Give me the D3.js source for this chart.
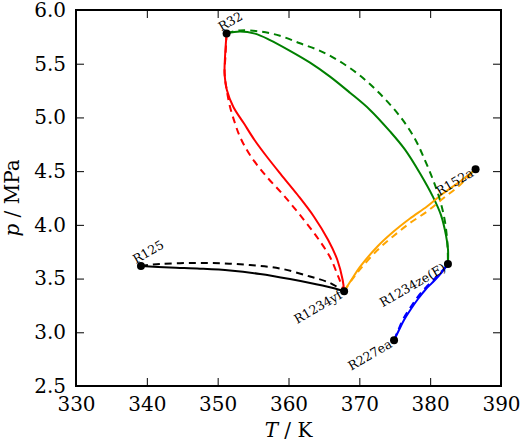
<!DOCTYPE html>
<html>
<head>
<meta charset="utf-8">
<script src="https://cdn.jsdelivr.net/npm/d3@7"></script>
<style>
  body { margin: 0; padding: 0; background: white; }
  text { font-family: "DejaVu Serif", serif; }
</style>
</head>
<body>
<div id="chart"></div>
<script>
const width = 520;
const height = 443;
const margin = { left: 76, top: 10, right: 19, bottom: 57 };

// axis ticks
const xTicks = [330, 340, 350, 360, 370, 380, 390];
const yTicks = [2.5, 3.0, 3.5, 4.0, 4.5, 5.0, 5.5, 6.0];

// pure fluid critical points
const fluidNames = ["R32", "R125", "R1234yf", "R1234ze(E)", "R227ea", "R152a"];
const fluidT = [351.26, 339.17, 367.85, 382.51, 374.9, 386.41];
const fluidP = [5.782, 3.618, 3.382, 3.635, 2.925, 4.517];

// critical lines of binary mixtures, [T / K, p / MPa], solid and dashed
const r32R1234yf = [[351.26,5.782],[351.04,5.565],[350.98,5.41],[351.3,5.255],[352.2,5.10],[353.7,4.945],[355.2,4.79],[356.95,4.634],[359.0,4.464],[361.3,4.278],[363.6,4.076],[365.6,3.859],[366.9,3.673],[367.65,3.487],[367.85,3.382]];
const r32R1234yfDash = [[351.26,5.782],[351.11,5.58],[350.98,5.41],[351.28,5.255],[351.74,5.10],[352.45,4.945],[353.15,4.82],[354.56,4.65],[356.9,4.45],[359.27,4.278],[361.62,4.092],[363.98,3.89],[365.86,3.70],[367.03,3.517],[367.85,3.382]];
const r32R1234ze = [[351.26,5.782],[353.15,5.80],[355.27,5.78],[357.39,5.72],[360.21,5.62],[363.04,5.51],[365.86,5.38],[368.68,5.23],[371.51,5.07],[374.33,4.87],[376.45,4.70],[378.56,4.48],[380.40,4.26],[381.53,4.09],[382.24,3.90],[382.52,3.77],[382.51,3.635]];
const r32R1234zeDash = [[351.26,5.782],[353.15,5.81],[355.98,5.80],[358.80,5.76],[361.62,5.69],[364.45,5.62],[367.27,5.52],[370.09,5.39],[372.92,5.22],[375.74,5.01],[377.86,4.80],[379.27,4.60],[380.40,4.42],[381.39,4.23],[382.09,4.03],[382.45,3.81],[382.51,3.635]];
const r125R1234yf = [[339.17,3.618],[343.27,3.603],[347.51,3.592],[351.74,3.575],[355.98,3.543],[360.21,3.496],[363.74,3.450],[366.57,3.408],[367.85,3.382]];
const r125R1234yfDash = [[339.17,3.618],[341.86,3.636],[346.09,3.645],[350.33,3.642],[354.56,3.626],[358.80,3.594],[363.04,3.519],[365.86,3.459],[367.85,3.382]];
const r1234yfR152a = [[367.85,3.382],[368.96,3.496],[370.09,3.608],[372.49,3.794],[374.75,3.933],[377.15,4.059],[379.55,4.171],[381.81,4.292],[384.21,4.404],[386.41,4.517]];
const r1234yfR152aDash = [[367.85,3.382],[368.96,3.49],[370.09,3.585],[372.49,3.761],[374.75,3.892],[377.15,4.017],[379.55,4.124],[381.81,4.245],[384.21,4.371],[386.41,4.517]];
const r227eaR1234ze = [[374.9,2.925],[375.60,3.021],[376.31,3.114],[377.29,3.217],[378.28,3.31],[379.41,3.403],[380.54,3.477],[381.67,3.561],[382.51,3.635]];
const r227eaR1234zeDash = [[374.9,2.925],[375.55,3.03],[376.25,3.13],[377.25,3.235],[378.25,3.33],[379.4,3.418],[380.5,3.49],[381.65,3.57],[382.51,3.635]];

const curves = [
  { data: r32R1234yf, color: "#ff0000", dash: null },
  { data: r32R1234ze, color: "#008000", dash: null },
  { data: r125R1234yf, color: "#000000", dash: null },
  { data: r1234yfR152a, color: "#ffa500", dash: null },
  { data: r227eaR1234ze, color: "#0000ff", dash: null },
  { data: r32R1234yfDash, color: "#ff0000", dash: "7,5" },
  { data: r32R1234zeDash, color: "#008000", dash: "7,5" },
  { data: r125R1234yfDash, color: "#000000", dash: "7,5" },
  { data: r1234yfR152aDash, color: "#ffa500", dash: "7,5" },
  { data: r227eaR1234zeDash, color: "#0000ff", dash: "7,5" },
];

// label placement: which end of the text sits at the point
const labelAnchor = ["start", "start", "end", "end", "end", "end"];

const innerW = width - margin.left - margin.right;
const innerH = height - margin.top - margin.bottom;

const svg = d3.select("#chart")
  .append("svg")
  .attr("width", width)
  .attr("height", height);

const g = svg.append("g")
  .attr("transform", "translate(" + margin.left + "," + margin.top + ")");

const x = d3.scaleLinear().domain([330, 390]).range([0, innerW]);
const y = d3.scaleLinear().domain([2.5, 6.0]).range([innerH, 0]);

const line = d3.line()
  .x(d => x(d[0]))
  .y(d => y(d[1]))
  .curve(d3.curveCatmullRom.alpha(0.5));

g.selectAll(".curve")
  .data(curves)
  .enter()
  .append("path")
  .attr("class", "curve")
  .attr("d", d => line(d.data))
  .attr("fill", "none")
  .attr("stroke", d => d.color)
  .attr("stroke-width", 2)
  .attr("stroke-dasharray", d => d.dash);

// markers
g.selectAll(".pt")
  .data(fluidNames)
  .enter()
  .append("circle")
  .attr("class", "pt")
  .attr("cx", (d, i) => x(fluidT[i]))
  .attr("cy", (d, i) => y(fluidP[i]))
  .attr("r", 4)
  .attr("fill", "black");

// rotated labels
g.selectAll(".lbl")
  .data(fluidNames)
  .enter()
  .append("text")
  .attr("class", "lbl")
  .attr("transform", function (d, i) {
    const px = x(fluidT[i]);
    const py = y(fluidP[i]);
    if (labelAnchor[i] === "start") {
      return "translate(" + (px - 5) + "," + (py - 2) + ") rotate(-30)";
    }
    return "translate(" + (px - 3) + "," + (py + 3) + ") rotate(-30)";
  })
  .attr("text-anchor", (d, i) => labelAnchor[i])
  .attr("dy", (d, i) => labelAnchor[i] === "start" ? "0" : "0.3em")
  .style("font-size", "12.5px")
  .text(d => d);

// axes with inward ticks on all four sides
const tickLen = 8;
const xAxisB = d3.axisBottom(x).tickValues(xTicks).tickSizeInner(-tickLen).tickSizeOuter(0).tickPadding(11).tickFormat(d3.format("d"));
const xAxisT = d3.axisTop(x).tickValues(xTicks).tickSizeInner(-tickLen).tickSizeOuter(0).tickFormat("");
const yAxisL = d3.axisLeft(y).tickValues(yTicks).tickSizeInner(-tickLen).tickSizeOuter(0).tickPadding(10).tickFormat(d3.format(".1f"));
const yAxisR = d3.axisRight(y).tickValues(yTicks).tickSizeInner(-tickLen).tickSizeOuter(0).tickFormat("");

g.append("g").attr("transform", "translate(0," + innerH + ")").call(xAxisB);
g.append("g").call(xAxisT);
g.append("g").call(yAxisL);
g.append("g").attr("transform", "translate(" + innerW + ",0)").call(yAxisR);

g.selectAll(".domain").remove();
g.selectAll(".tick line").attr("stroke", "black").attr("stroke-width", 1);
g.selectAll(".tick text")
  .style("font-family", "DejaVu Serif")
  .style("font-size", "20px")
  .attr("fill", "black");

// frame
g.append("rect")
  .attr("width", innerW)
  .attr("height", innerH)
  .attr("fill", "none")
  .attr("stroke", "black")
  .attr("stroke-width", 2);

// axis titles
const xTitle = svg.append("text")
  .attr("x", margin.left + innerW / 2)
  .attr("y", 437)
  .attr("text-anchor", "middle")
  .style("font-size", "20px");
xTitle.append("tspan").style("font-style", "italic").text("T");
xTitle.append("tspan").text(" / K");

const yTitle = svg.append("text")
  .attr("transform", "translate(19," + (margin.top + innerH / 2) + ") rotate(-90)")
  .attr("text-anchor", "middle")
  .style("font-size", "20px");
yTitle.append("tspan").style("font-style", "italic").text("p");
yTitle.append("tspan").text(" / MPa");
</script>
</body>
</html>
